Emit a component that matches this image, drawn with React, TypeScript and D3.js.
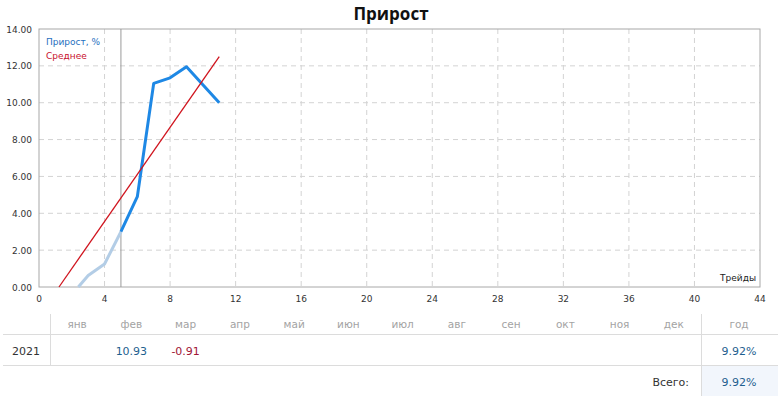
import React, { useEffect, useRef } from 'react';
import * as d3 from 'd3';

// growth curve, trade number -> %
const trades = [2.4, 3, 4, 5, 6, 7, 8, 9, 11];
const growth = [0, 0.62, 1.25, 3.0, 4.9, 11.05, 11.35, 11.95, 10.0];
// trades before this one are drawn faded
const splitTrade = 5;
// average (trend) line end points
const avgTrades = [1.22, 11];
const avgValues = [0, 12.5];

const xTicks = [0, 4, 8, 12, 16, 20, 24, 28, 32, 36, 40, 44];
const yTicks = [0, 2, 4, 6, 8, 10, 12, 14];

const months = ['янв', 'фев', 'мар', 'апр', 'май', 'июн', 'июл', 'авг', 'сен', 'окт', 'ноя', 'дек'];
const years = ['2021'];
const monthValues: (number | null)[][] = [
  [null, 10.93, -0.91, null, null, null, null, null, null, null, null, null],
];
const yearTotals = [9.92];
const grandTotal = 9.92;

const W = 783;
const H = 404;

export default function App() {
  const ref = useRef<SVGSVGElement>(null);

  useEffect(() => {
    if (!ref.current) return;
    const svg = d3.select(ref.current);
    svg.selectAll('*').remove();

    const font = 'DejaVu Sans, Verdana, sans-serif';
    const left = 39, right = 760, top = 29, bottom = 287;

    const x = d3.scaleLinear().domain([0, 44]).range([left, right]);
    const y = d3.scaleLinear().domain([0, 14]).range([bottom, top]);

    // Title
    svg.append('text')
      .attr('x', 391).attr('y', 20)
      .attr('text-anchor', 'middle')
      .attr('font-family', 'Open Sans, Noto Sans, sans-serif')
      .attr('font-weight', 'bold')
      .attr('font-size', 17)
      .attr('fill', '#111')
      .text('Прирост');

    // Grid
    const grid = svg.append('g');
    grid.selectAll('.gx')
      .data(xTicks.filter(t => t > 0 && t < 44))
      .enter().append('line')
      .attr('x1', d => x(d)).attr('x2', d => x(d))
      .attr('y1', top).attr('y2', bottom)
      .attr('stroke', '#d3d3d3').attr('stroke-dasharray', '5,4');
    grid.selectAll('.gy')
      .data(yTicks.filter(t => t > 0 && t < 14))
      .enter().append('line')
      .attr('x1', left).attr('x2', right)
      .attr('y1', d => y(d)).attr('y2', d => y(d))
      .attr('stroke', '#d3d3d3').attr('stroke-dasharray', '5,4');

    // Frame
    svg.append('rect')
      .attr('x', left).attr('y', top)
      .attr('width', right - left).attr('height', bottom - top)
      .attr('fill', 'none').attr('stroke', '#a8a8a8');

    // Split marker
    svg.append('line')
      .attr('x1', x(splitTrade)).attr('x2', x(splitTrade))
      .attr('y1', top).attr('y2', bottom)
      .attr('stroke', '#9a9a9a');

    // Tick labels
    svg.selectAll('.xt')
      .data(xTicks)
      .enter().append('text')
      .attr('x', d => x(d)).attr('y', bottom + 15)
      .attr('text-anchor', 'middle')
      .attr('font-family', font).attr('font-size', 9)
      .attr('fill', '#333')
      .text(d => d);
    svg.selectAll('.yt')
      .data(yTicks)
      .enter().append('text')
      .attr('x', left - 7).attr('y', d => y(d) + 3.5)
      .attr('text-anchor', 'end')
      .attr('font-family', font).attr('font-size', 9)
      .attr('fill', '#333')
      .text(d => d.toFixed(2));

    svg.append('text')
      .attr('x', right - 4).attr('y', bottom - 6)
      .attr('text-anchor', 'end')
      .attr('font-family', font).attr('font-size', 9)
      .attr('fill', '#222')
      .text('Трейды');

    // Legend
    svg.append('text')
      .attr('x', left + 7).attr('y', 45)
      .attr('font-family', font).attr('font-size', 9)
      .attr('fill', '#1f6fc0')
      .text('Прирост, %');
    svg.append('text')
      .attr('x', left + 7).attr('y', 59)
      .attr('font-family', font).attr('font-size', 9)
      .attr('fill', '#c8102e')
      .text('Среднее');

    // Lines
    const pts = trades.map((t, i) => [t, growth[i]] as [number, number]);
    const line = d3.line<[number, number]>().x(d => x(d[0])).y(d => y(d[1]));
    const faded = pts.filter(p => p[0] <= splitTrade);
    const main = pts.filter(p => p[0] >= splitTrade);

    svg.append('path')
      .attr('d', line(faded))
      .attr('fill', 'none').attr('stroke', '#b3cde6')
      .attr('stroke-width', 3).attr('stroke-linejoin', 'round');
    svg.append('path')
      .attr('d', line(main))
      .attr('fill', 'none').attr('stroke', '#1e88e5')
      .attr('stroke-width', 3).attr('stroke-linejoin', 'round');

    const avgPts = avgTrades.map((t, i) => [t, avgValues[i]] as [number, number]);
    svg.append('path')
      .attr('d', line(avgPts))
      .attr('fill', 'none').attr('stroke', '#d0141e')
      .attr('stroke-width', 1.3);

    // Table
    const tFont = 'DejaVu Sans, Tahoma, sans-serif';
    const col = d3.scaleBand<string>().domain(months).range([50, 701]);
    const tbl = svg.append('g');

    tbl.append('rect')
      .attr('x', 701).attr('y', 365)
      .attr('width', 77).attr('height', 31)
      .attr('fill', '#f2f6fc');

    tbl.selectAll('.hl')
      .data([334, 365])
      .enter().append('line')
      .attr('x1', 3).attr('x2', 778)
      .attr('y1', d => d + 0.5).attr('y2', d => d + 0.5)
      .attr('stroke', '#dcdcdc');
    tbl.append('line')
      .attr('x1', 50.5).attr('x2', 50.5).attr('y1', 314).attr('y2', 365)
      .attr('stroke', '#dcdcdc');
    tbl.append('line')
      .attr('x1', 701.5).attr('x2', 701.5).attr('y1', 314).attr('y2', 396)
      .attr('stroke', '#dcdcdc');

    tbl.selectAll('.mh')
      .data(months)
      .enter().append('text')
      .attr('x', d => (col(d) || 0) + col.bandwidth() / 2)
      .attr('y', 328)
      .attr('text-anchor', 'middle')
      .attr('font-family', tFont).attr('font-size', 10.5)
      .attr('fill', '#a3a3a3')
      .text(d => d);
    tbl.append('text')
      .attr('x', 739).attr('y', 328)
      .attr('text-anchor', 'middle')
      .attr('font-family', tFont).attr('font-size', 10.5)
      .attr('fill', '#a3a3a3')
      .text('год');

    years.forEach((yr, r) => {
      const yy = 355 + r * 31;
      tbl.append('text')
        .attr('x', 26).attr('y', yy)
        .attr('text-anchor', 'middle')
        .attr('font-family', tFont).attr('font-size', 11)
        .attr('fill', '#333')
        .text(yr);
      monthValues[r].forEach((v, i) => {
        if (v === null) return;
        tbl.append('text')
          .attr('x', (col(months[i]) || 0) + col.bandwidth() / 2)
          .attr('y', yy)
          .attr('text-anchor', 'middle')
          .attr('font-family', tFont).attr('font-size', 11)
          .attr('fill', v >= 0 ? '#1f5f8f' : '#a01535')
          .text(v.toFixed(2));
      });
      tbl.append('text')
        .attr('x', 739).attr('y', yy)
        .attr('text-anchor', 'middle')
        .attr('font-family', tFont).attr('font-size', 11)
        .attr('fill', '#1f5f8f')
        .text(`${yearTotals[r].toFixed(2)}%`);
    });

    tbl.append('text')
      .attr('x', 689).attr('y', 386)
      .attr('text-anchor', 'end')
      .attr('font-family', tFont).attr('font-size', 11)
      .attr('fill', '#333')
      .text('Всего:');
    tbl.append('text')
      .attr('x', 739).attr('y', 386)
      .attr('text-anchor', 'middle')
      .attr('font-family', tFont).attr('font-size', 11)
      .attr('fill', '#1f5f8f')
      .text(`${grandTotal.toFixed(2)}%`);
  }, []);

  return (
    <svg
      ref={ref}
      width={W}
      height={H}
      style={{ position: 'absolute', left: 0, top: 0, background: '#fff' }}
    />
  );
}
